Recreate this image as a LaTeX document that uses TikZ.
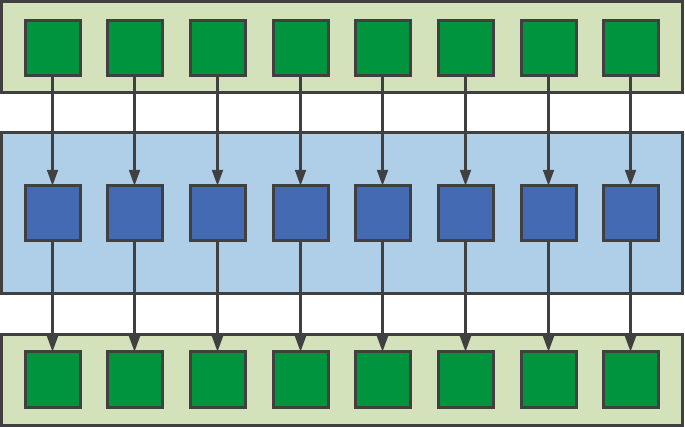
\documentclass[tikz,border=0pt]{standalone}
\usetikzlibrary{arrows.meta}
\definecolor{bandgreen}{RGB}{211,226,187}
\definecolor{boxgreen}{RGB}{0,148,63}
\definecolor{bandblue}{RGB}{175,207,232}
\definecolor{boxblue}{RGB}{67,106,178}
\definecolor{edge}{RGB}{64,64,64}
\begin{document}
\begin{tikzpicture}[x=1pt,y=-1pt,
  band/.style={draw=edge,line width=3pt},
  sq/.style={draw=edge,line width=3pt,minimum width=55pt,minimum height=55pt,inner sep=0pt,outer sep=0pt},
  gsq/.style={sq,fill=boxgreen},
  bsq/.style={sq,fill=boxblue},
  conn/.style={draw=edge,line width=3pt,-{Triangle[length=16pt,width=10.5pt]}}]
\useasboundingbox (0,0) rectangle (685,427);
\draw[band,fill=bandgreen] (1.5,1.5) rectangle (682.5,92.5);
\draw[band,fill=bandblue] (1.5,132.5) rectangle (682.5,293.5);
\draw[band,fill=bandgreen] (1.5,334.5) rectangle (682.5,425.5);
\foreach \i in {1,...,8}{
  \pgfmathsetmacro{\xc}{floor(52+82.7*(\i-1))+0.5}
  \node[gsq] (t\i) at (\xc,48) {};
  \node[bsq] (m\i) at (\xc,213.5) {};
  \node[gsq] (b\i) at (\xc,379.5) {};
}
\foreach \i in {1,...,8}{
  \draw[conn] (t\i) -- (m\i);
  \draw[conn] (m\i) -- (b\i);
}
\end{tikzpicture}
\end{document}
